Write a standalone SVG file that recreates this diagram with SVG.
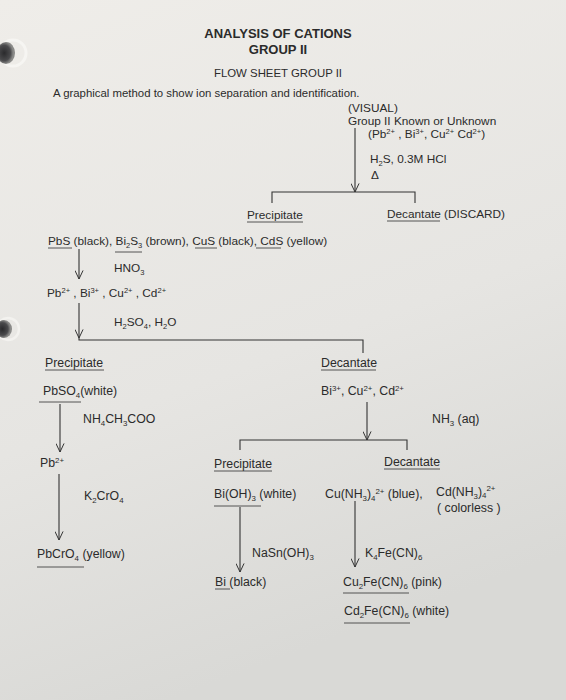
<svg xmlns="http://www.w3.org/2000/svg" width="566" height="700" viewBox="0 0 566 700">
<defs>
<linearGradient id="bg" x1="0" y1="0" x2="0.3" y2="1">
<stop offset="0" stop-color="#efede9"/>
<stop offset="0.6" stop-color="#e6e5e2"/>
<stop offset="1" stop-color="#d9d9d6"/>
</linearGradient>
<radialGradient id="hole" cx="0.4" cy="0.5" r="0.5">
<stop offset="0" stop-color="#2a2a2c"/>
<stop offset="0.7" stop-color="#4a4a4c"/>
<stop offset="1" stop-color="#8a8a88"/>
</radialGradient>
<marker id="arr" viewBox="0 0 10 10" refX="9.5" refY="5" markerWidth="9" markerHeight="9" markerUnits="userSpaceOnUse" orient="auto">
<path d="M0,0.5 L9.5,5 L0,9.5" fill="none" stroke="#333" stroke-width="1.1"/>
</marker>
</defs>
<style>
text{font-family:"Liberation Sans",Arial,sans-serif;font-size:11.8px;fill:#2b2b2b}
.t{font-weight:bold;font-size:13px}
.s{font-size:11.4px}
.L{font-size:12.3px}
.b{font-size:0.64em}
.line{stroke:#333;stroke-width:1.1;fill:none}
.ul{stroke:#444;stroke-width:0.9}
.ar{stroke:#333;stroke-width:1.1;fill:none;marker-end:url(#arr)}
</style>
<rect width="566" height="700" fill="url(#bg)"/>
<g id="holes">
<circle cx="13" cy="53" r="13" fill="none" stroke="#f6f5f2" stroke-width="3"/>
<ellipse cx="6" cy="53" rx="9" ry="11" fill="url(#hole)"/>
<circle cx="8" cy="329" r="11" fill="none" stroke="#f3f2ef" stroke-width="2.5"/>
<ellipse cx="4" cy="329" rx="8" ry="9" fill="url(#hole)"/>
</g>
<g id="header">
<text class="t" x="278" y="38" text-anchor="middle">ANALYSIS OF CATIONS</text>
<text class="t" x="278" y="54" text-anchor="middle">GROUP II</text>
<text class="s" x="278" y="77" text-anchor="middle">FLOW SHEET GROUP II</text>
<text class="s" x="53" y="97">A graphical method to show ion separation and identification.</text>
</g>
<g id="connectors">
<line class="ar" x1="355" y1="128" x2="355" y2="192"/>
<polyline class="line" points="272,203 272,192 415,192 415,203"/>
<line class="ar" x1="79" y1="249" x2="79" y2="279"/>
<line class="ar" x1="79" y1="303" x2="79" y2="338"/>
<polyline class="line" points="79,338 79,340 363,340 363,353"/>
<line class="ar" x1="60" y1="404" x2="60" y2="452"/>
<line class="ar" x1="367" y1="402" x2="367" y2="440"/>
<polyline class="line" points="240,450 240,440 407,440 407,450"/>
<line class="ar" x1="59" y1="474" x2="59" y2="540"/>
<line class="ar" x1="240" y1="507" x2="240" y2="572"/>
<line class="ar" x1="355" y1="501" x2="355" y2="567"/>
</g>
<g id="start">
<text x="348" y="112">(VISUAL)</text>
<text x="348" y="125">Group II Known or Unknown</text>
<text x="368" y="138">(Pb<tspan class="b" dy="-4">2+</tspan><tspan dy="4"> , Bi</tspan><tspan class="b" dy="-4">3+</tspan><tspan dy="4">, Cu</tspan><tspan class="b" dy="-4">2+</tspan><tspan dy="4"> Cd</tspan><tspan class="b" dy="-4">2+</tspan><tspan dy="4">)</tspan></text>
<text x="370" y="163">H<tspan class="b" dy="3">2</tspan><tspan dy="-3">S, 0.3M HCl</tspan></text>
<text x="371" y="179">Δ</text>
</g>
<g id="split1">
<text x="247" y="219">Precipitate</text>
<line class="ul" x1="247" y1="222" x2="303" y2="222"/>
<text x="387" y="218">Decantate (DISCARD)</text>
<line class="ul" x1="387" y1="221" x2="440" y2="221"/>
</g>
<g id="sulfides">
<text x="48" y="245">PbS (black), Bi<tspan class="b" dy="3">2</tspan><tspan dy="-3">S</tspan><tspan class="b" dy="3">3</tspan><tspan dy="-3"> (brown), CuS (black), CdS (yellow)</tspan></text>
<line class="ul" x1="48" y1="248" x2="72" y2="248"/>
<line class="ul" x1="115" y1="252" x2="142" y2="252"/>
<line class="ul" x1="195" y1="248" x2="217" y2="248"/>
<line class="ul" x1="256" y1="248" x2="281" y2="248"/>
<text x="114" y="272">HNO<tspan class="b" dy="3">3</tspan></text>
</g>
<g id="ions1">
<text x="47" y="297">Pb<tspan class="b" dy="-4">2+</tspan><tspan dy="4"> , Bi</tspan><tspan class="b" dy="-4">3+</tspan><tspan dy="4"> , Cu</tspan><tspan class="b" dy="-4">2+</tspan><tspan dy="4"> , Cd</tspan><tspan class="b" dy="-4">2+</tspan></text>
<text x="114" y="326">H<tspan class="b" dy="3">2</tspan><tspan dy="-3">SO</tspan><tspan class="b" dy="3">4</tspan><tspan dy="-3">, H</tspan><tspan class="b" dy="3">2</tspan><tspan dy="-3">O</tspan></text>
</g>
<g id="split2">
<text class="L" x="45" y="367">Precipitate</text>
<line class="ul" x1="45" y1="370" x2="104" y2="370"/>
<text class="L" x="321" y="367">Decantate</text>
<line class="ul" x1="321" y1="370" x2="376" y2="370"/>
</g>
<g id="pbso4">
<text class="L" x="43" y="395">PbSO<tspan class="b" dy="3">4</tspan><tspan dy="-3">(white)</tspan></text>
<line class="ul" x1="39" y1="402" x2="81" y2="402"/>
<text class="L" x="83" y="423">NH<tspan class="b" dy="3">4</tspan><tspan dy="-3">CH</tspan><tspan class="b" dy="3">3</tspan><tspan dy="-3">COO</tspan></text>
</g>
<g id="ions2">
<text class="L" x="321" y="395">Bi<tspan class="b" dy="-4">3+</tspan><tspan dy="4">, Cu</tspan><tspan class="b" dy="-4">2+</tspan><tspan dy="4">, Cd</tspan><tspan class="b" dy="-4">2+</tspan></text>
<text class="L" x="432" y="423">NH<tspan class="b" dy="3">3</tspan><tspan dy="-3"> (aq)</tspan></text>
</g>
<g id="pb">
<text class="L" x="40" y="467">Pb<tspan class="b" dy="-4">2+</tspan></text>
<text class="L" x="84" y="500">K<tspan class="b" dy="3">2</tspan><tspan dy="-3">CrO</tspan><tspan class="b" dy="3">4</tspan></text>
</g>
<g id="split3">
<text class="L" x="214" y="468">Precipitate</text>
<line class="ul" x1="214" y1="471" x2="272" y2="471"/>
<text class="L" x="384" y="466">Decantate</text>
<line class="ul" x1="384" y1="469" x2="440" y2="469"/>
</g>
<g id="bioh3">
<text class="L" x="214" y="498">Bi(OH)<tspan class="b" dy="3">3</tspan><tspan dy="-3"> (white)</tspan></text>
<line class="ul" x1="214" y1="506" x2="261" y2="506"/>
<text class="L" x="252" y="557">NaSn(OH)<tspan class="b" dy="3">3</tspan></text>
</g>
<g id="complexes">
<text class="L" x="325" y="498">Cu(NH<tspan class="b" dy="3">3</tspan><tspan dy="-3">)</tspan><tspan class="b" dy="3">4</tspan><tspan class="b" dy="-7">2+</tspan><tspan dy="4"> (blue),</tspan></text>
<text class="L" x="436" y="496">Cd(NH<tspan class="b" dy="3">3</tspan><tspan dy="-3">)</tspan><tspan class="b" dy="2">4</tspan><tspan class="b" dy="-7">2+</tspan></text>
<text class="L" x="437" y="512">( colorless )</text>
<text class="L" x="365" y="557">K<tspan class="b" dy="3">4</tspan><tspan dy="-3">Fe(CN)</tspan><tspan class="b" dy="3">6</tspan></text>
</g>
<g id="pbcro4">
<text class="L" x="37" y="558">PbCrO<tspan class="b" dy="3">4</tspan><tspan dy="-3"> (yellow)</tspan></text>
<line class="ul" x1="37" y1="567" x2="84" y2="567"/>
</g>
<g id="bi">
<text class="L" x="215" y="586">Bi (black)</text>
<line class="ul" x1="215" y1="589" x2="230" y2="589"/>
</g>
<g id="cufe">
<text class="L" x="343" y="586">Cu<tspan class="b" dy="3">2</tspan><tspan dy="-3">Fe(CN)</tspan><tspan class="b" dy="3">6</tspan><tspan dy="-3"> (pink)</tspan></text>
<line class="ul" x1="343" y1="593" x2="409" y2="593"/>
</g>
<g id="cdfe">
<text class="L" x="344" y="615">Cd<tspan class="b" dy="3">2</tspan><tspan dy="-3">Fe(CN)</tspan><tspan class="b" dy="3">6</tspan><tspan dy="-3"> (white)</tspan></text>
<line class="ul" x1="344" y1="623" x2="410" y2="623"/>
</g>
</svg>
